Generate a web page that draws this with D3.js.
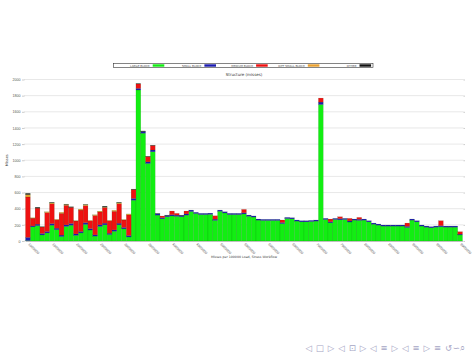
<!DOCTYPE html>
<html>
<head>
  <meta charset='utf-8'>
  <title>Structure (misses)</title>
  <style>
    body { margin: 0; background: #ffffff; }
    svg { display: block; font-family: 'DejaVu Sans', sans-serif; }
  </style>
  <script src='https://cdn.jsdelivr.net/npm/d3@7'></script>
</head>
<body>
  <svg id='plot-area' width='474' height='355'></svg>
  <script>
    // legend entries, bottom of the stack first
    const seriesNames = ['LARGE BLOCK', 'SMALL BLOCK', 'MEDIUM BLOCK', 'DIFF SMALL BLOCK', 'OTHER'];
    const seriesColors = ['#12ee12', '#1c1cb0', '#ee1111', '#e8a030', '#111111'];

    // misses per run, one value per bar
    const large = [
      5, 175, 190, 75, 100, 195, 140, 55, 180, 195,
      70, 100, 205, 136, 60, 180, 200, 80, 120, 200,
      150, 50, 505, 1870, 1335, 960, 1105, 320, 275, 300,
      310, 305, 300, 320, 365, 340, 327, 327, 330, 255,
      368, 347, 327, 327, 327, 335, 306, 296, 258, 254,
      254, 254, 254, 215, 278, 274, 246, 237, 237, 241,
      246, 1690, 266, 225, 266, 262, 266, 235, 258, 255,
      258, 237, 208, 196, 184, 184, 184, 184, 184, 167,
      258, 237, 184, 171, 163, 171, 176, 171, 171, 171,
      75];
    const small = [
      40, 12, 18, 18, 18, 20, 18, 18, 20, 22,
      18, 18, 22, 18, 16, 20, 20, 16, 18, 20,
      18, 18, 22, 20, 20, 20, 22, 18, 14, 16,
      16, 15, 16, 16, 18, 15, 15, 15, 15, 15,
      15, 15, 15, 15, 15, 15, 15, 14, 14, 14,
      14, 14, 14, 14, 14, 14, 14, 14, 14, 14,
      14, 30, 14, 14, 14, 14, 14, 14, 14, 14,
      14, 14, 14, 14, 14, 14, 14, 14, 14, 14,
      14, 14, 14, 14, 14, 14, 14, 14, 14, 14,
      10];
    const medium = [
      500, 96, 199, 80, 234, 245, 105, 270, 242, 200,
      160, 265, 210, 96, 240, 160, 195, 155, 230, 240,
      92, 255, 110, 55, 0, 65, 55, 0, 20, 0,
      45, 22, 0, 35, 0, 0, 0, 0, 0, 42,
      0, 0, 0, 0, 0, 41, 0, 0, 0, 0,
      0, 0, 0, 31, 0, 0, 0, 0, 0, 0,
      0, 50, 0, 33, 0, 24, 0, 31, 0, 23,
      0, 0, 0, 0, 0, 0, 0, 0, 0, 41,
      0, 0, 0, 0, 0, 0, 61, 0, 0, 0,
      30];
    const diffSmall = [
      30, 5, 0, 0, 10, 12, 5, 12, 10, 0,
      3, 12, 12, 5, 9, 10, 5, 4, 12, 12,
      5, 12, 0, 0, 0, 0, 0, 0, 0, 0,
      0, 0, 0, 0, 0, 0, 0, 0, 0, 0,
      0, 0, 0, 0, 0, 0, 0, 0, 0, 0,
      0, 0, 0, 0, 0, 0, 0, 0, 0, 0,
      0, 0, 0, 0, 0, 0, 0, 0, 0, 0,
      0, 0, 0, 0, 0, 0, 0, 0, 0, 0,
      0, 0, 0, 0, 0, 0, 0, 0, 0, 0,
      0];
    const other = [
      15, 0, 10, 4, 0, 6, 0, 0, 5, 7,
      0, 0, 4, 0, 0, 0, 10, 0, 0, 6,
      0, 0, 6, 5, 8, 5, 5, 4, 0, 5,
      0, 0, 5, 0, 0, 0, 0, 0, 0, 0,
      0, 0, 0, 0, 0, 0, 0, 0, 0, 0,
      0, 0, 0, 0, 0, 0, 0, 0, 0, 0,
      0, 0, 0, 0, 0, 0, 0, 0, 0, 0,
      0, 0, 0, 0, 0, 0, 0, 0, 0, 0,
      0, 0, 0, 0, 0, 0, 0, 0, 0, 0,
      0];

    // every fifth run carries a label
    const tickLabels = [
      '1000000', '1500000', '2000000', '2500000', '3000000',
      '3500000', '4000000', '4500000', '5000000', '5500000',
      '6000000', '6500000', '7000000', '7500000', '8000000',
      '8500000', '9000000', '9500000', '9900000'];
    const yTicks = [0, 200, 400, 600, 800, 1000, 1200, 1400, 1600, 1800, 2000];

    const title = 'Structure (misses)';
    const yTitle = 'Misses';
    const xTitle = 'Misses per 100000 Load, Stress Workflow';
    const navSymbols = '\u25C1 \u25A1 \u25B7  \u25C1 \u22A1 \u25B7  \u25C1 \u2261 \u25B7  \u25C1 \u2261 \u25B7  \u2261  \u21BA\u223D\u2315';

    const svg = d3.select('#plot-area');
    const plot = { left: 25.5, right: 462.5, top: 79.5, bottom: 241 };

    // builds rows for the stack
    const rows = large.map((v, i) => ({
      run: i,
      [seriesNames[0]]: v,
      [seriesNames[1]]: small[i],
      [seriesNames[2]]: medium[i],
      [seriesNames[3]]: diffSmall[i],
      [seriesNames[4]]: other[i]
    }));
    const stacked = d3.stack().keys(seriesNames)(rows);

    const x = d3.scaleBand()
      .domain(rows.map(d => d.run))
      .range([plot.left, plot.right])
      .paddingInner(0);
    const y = d3.scaleLinear()
      .domain([0, 2000])
      .range([plot.bottom, plot.top]);
    const color = d3.scaleOrdinal().domain(seriesNames).range(seriesColors);

    // gridlines with small ticks on both sides
    const grid = svg.append('g');
    grid.selectAll('line.grid')
      .data(yTicks)
      .join('line')
        .attr('class', 'grid')
        .attr('x1', plot.left - 1.5)
        .attr('x2', plot.right + 1)
        .attr('y1', d => y(d))
        .attr('y2', d => y(d))
        .attr('stroke', '#d8d8d8')
        .attr('stroke-width', 0.6);
    const yAxis = d3.axisLeft(y)
      .tickValues(yTicks)
      .tickSize(2.5)
      .tickPadding(1.5)
      .tickFormat(d3.format('d'));
    const gY = svg.append('g')
      .attr('transform', `translate(${plot.left - 1}, 0)`)
      .call(yAxis);
    gY.select('.domain').remove();
    gY.selectAll('line').attr('stroke', '#999').attr('stroke-width', 0.5);
    gY.selectAll('text').attr('font-size', 3.6).attr('fill', '#555');
    const gYR = svg.append('g')
      .attr('transform', `translate(${plot.right + 1}, 0)`)
      .call(d3.axisRight(y).tickValues(yTicks).tickSize(1.5).tickFormat(''));
    gYR.select('.domain').remove();
    gYR.selectAll('line').attr('stroke', '#999').attr('stroke-width', 0.5);

    // stacked bars
    svg.append('g')
      .selectAll('g')
      .data(stacked)
      .join('g')
        .attr('fill', d => color(d.key))
      .selectAll('rect')
      .data(d => d.filter(s => s[1] > s[0]))
      .join('rect')
        .attr('x', d => x(d.data.run))
        .attr('width', x.bandwidth())
        .attr('y', d => y(d[1]))
        .attr('height', d => y(d[0]) - y(d[1]))
        .attr('stroke', 'rgba(0,60,0,0.35)')
        .attr('stroke-width', 0.3);

    // x axis labels, every fifth run
    const labelRuns = tickLabels.map((t, i) => i * 5);
    const xAxis = d3.axisBottom(x)
      .tickValues(labelRuns)
      .tickSize(0)
      .tickFormat((d, i) => tickLabels[i]);
    const gX = svg.append('g')
      .attr('transform', `translate(0, ${plot.bottom})`)
      .call(xAxis);
    gX.select('.domain')
      .attr('stroke', '#999')
      .attr('stroke-width', 0.5);
    gX.selectAll('text')
      .attr('font-size', 3.6)
      .attr('fill', '#555')
      .attr('text-anchor', 'start')
      .attr('dy', 0)
      .attr('y', 0)
      .attr('transform', 'translate(0, 3.5) rotate(45)');

    // titles
    svg.append('text')
      .attr('x', 244)
      .attr('y', 75.5)
      .attr('text-anchor', 'middle')
      .attr('font-size', 4)
      .attr('fill', '#333')
      .text(title);
    svg.append('text')
      .attr('transform', `translate(8, ${(plot.top + plot.bottom) / 2}) rotate(-90)`)
      .attr('text-anchor', 'middle')
      .attr('font-size', 3.6)
      .attr('fill', '#444')
      .text(yTitle);
    svg.append('text')
      .attr('x', 244)
      .attr('y', 258)
      .attr('text-anchor', 'middle')
      .attr('font-size', 3.2)
      .attr('fill', '#444')
      .text(xTitle);

    // legend box along the top
    const legend = svg.append('g');
    legend.append('rect')
      .attr('x', 113.5)
      .attr('y', 63.5)
      .attr('width', 259.5)
      .attr('height', 4)
      .attr('fill', '#fff')
      .attr('stroke', '#333')
      .attr('stroke-width', 0.6);
    const swatchX = d3.scalePoint()
      .domain(seriesNames)
      .range([152.7, 359.5]);
    const items = legend.selectAll('g.item')
      .data(seriesNames)
      .join('g')
        .attr('class', 'item');
    items.append('rect')
      .attr('x', d => swatchX(d))
      .attr('y', 64.3)
      .attr('width', 11.6)
      .attr('height', 2.4)
      .attr('fill', d => color(d));
    items.append('text')
      .attr('x', d => swatchX(d) - 3)
      .attr('y', 66.6)
      .attr('text-anchor', 'end')
      .attr('font-size', 2.8)
      .attr('fill', '#555')
      .text(d => d);

    // slide navigation symbols
    svg.append('text')
      .attr('x', 466)
      .attr('y', 351)
      .attr('text-anchor', 'end')
      .attr('font-size', 8.5)
      .attr('letter-spacing', 0.6)
      .attr('fill', '#a5a5c4')
      .text(navSymbols);
  </script>
</body>
</html>
